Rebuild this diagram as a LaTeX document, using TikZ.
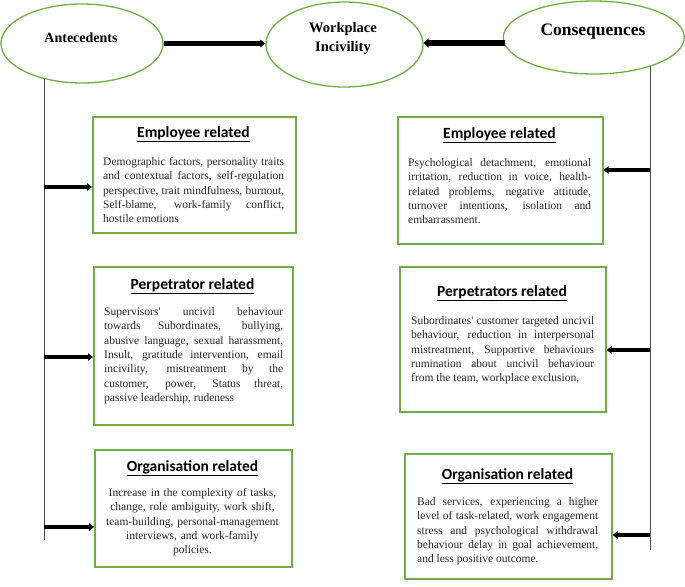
\documentclass[tikz,border=0pt]{standalone}
\usepackage{fontspec}
\setmainfont{Liberation Serif}
\newfontfamily\headfont{Carlito}
\usetikzlibrary{arrows.meta,shapes.geometric}
\definecolor{boxgreen}{RGB}{112,173,71}
\tikzset{
  oval/.style={ellipse, draw=boxgreen, line width=1.3pt, inner sep=0pt},
  ovaltext/.style={font=\bfseries\fontsize{14.5}{19}\selectfont, align=center, inner sep=0pt},
  card/.style={draw=boxgreen, line width=1.6pt, anchor=north west, inner sep=0pt},
  cardhead/.style={font=\headfont\bfseries\fontsize{15.5}{18}\selectfont, inner sep=0pt, anchor=base},
  cardbody/.style={font=\fontsize{11.5}{14.3}\selectfont, text=black!85, align=justify, inner sep=0pt, anchor=base west},
  vline/.style={draw=black!70, line width=0.9pt},
  feed/.style={line width=3.8pt, -{Triangle[length=5pt,width=7.5pt]}},
}
\begin{document}
\begin{tikzpicture}[x=1pt,y=1pt]
\useasboundingbox (0,0) rectangle (685,-586);
\tolerance=10000 \hyphenpenalty=10000

% ---- top ellipses
\node[oval, minimum width=162pt, minimum height=79pt] (ante) at (82,-43.5) {};
\node[ovaltext, font=\bfseries\fontsize{14}{16}\selectfont] (antet) at (81,-38) {Antecedents};
\node[oval, minimum width=157pt, minimum height=85pt] (wi) at (344.5,-44.5) {};
\node[ovaltext] (wit) at (343,-38.5) {Workplace\\Incivility};
\node[oval, minimum width=181pt, minimum height=73pt] (cons) at (593.8,-37.5) {};
\node[ovaltext, font=\bfseries\fontsize{17.5}{20}\selectfont] (const) at (593,-32) {Consequences};

\draw[feed, line width=4.2pt] (ante.east |- 0,-43.5) -- (wi.west |- 0,-43.5);
\draw[feed, line width=5.5pt, -{Triangle[length=5pt,width=9pt]}] (505,-43) coordinate (cstart) -- (wi.east |- cstart);

% ---- vertical lines
\coordinate (lt) at (44,-79);
\coordinate (lb) at (44,-540);
\coordinate (rt) at (650,-66);
\coordinate (rb) at (650,-550);
\draw[vline] (lt) -- (lb);
\draw[vline] (rt) -- (rb);

% ---- left boxes
\node[card, minimum width=203pt, minimum height=116pt] (ae) at (92,-116) {};
\node[cardhead] (aeh) at (193.5,-137) {\underline{Employee related}};
\node[cardbody, text width=181pt] (aeb) at (103,-165.5) {Demographic factors, personality traits\linebreak and contextual factors, self-regulation\linebreak perspective, trait mindfulness, burnout,\linebreak Self-blame, work-family conflict,\linebreak hostile emotions};

\node[card, minimum width=199pt, minimum height=158pt] (ap) at (93,-266) {};
\node[cardhead] (aph) at (192.5,-289) {\underline{Perpetrator related}};
\node[cardbody, text width=179pt] (apb) at (104,-315.5) {Supervisors\textquotesingle\ uncivil behaviour\linebreak towards Subordinates, bullying,\linebreak abusive language, sexual harassment,\linebreak Insult, gratitude intervention, email\linebreak incivility, mistreatment by the\linebreak customer, power, Status threat,\linebreak passive leadership, rudeness};

\node[card, minimum width=197pt, minimum height=117pt] (ao) at (94,-449) {};
\node[cardhead] (aoh) at (192.5,-471) {\underline{Organisation related}};
\node[cardbody, text width=185pt, align=center, anchor=base] (aob) at (192.5,-496.5) {Increase in the complexity of tasks,\\ change, role ambiguity, work shift,\\ team-building, personal-management\\ interviews, and work-family\\ policies.};

\coordinate (la1) at (44,-187);
\coordinate (la2) at (44,-357);
\coordinate (la3) at (44,-527);
\draw[feed] (la1) -- (ae.west |- la1);
\draw[feed] (la2) -- (ap.west |- la2);
\draw[feed] (la3) -- (ao.west |- la3);

% ---- right boxes
\node[card, minimum width=205pt, minimum height=127pt] (ce) at (397,-116) {};
\node[cardhead] (ceh) at (499.5,-138) {\underline{Employee related}};
\node[cardbody, text width=183pt] (ceb) at (408,-166.5) {Psychological detachment, emotional\linebreak irritation, reduction in voice, health-\linebreak{}related problems, negative attitude,\linebreak turnover intentions, isolation and\linebreak embarrassment.};

\node[card, minimum width=206pt, minimum height=145pt] (cp) at (399,-266) {};
\node[cardhead] (cph) at (502,-296) {\underline{Perpetrators related}};
\node[cardbody, text width=183pt] (cpb) at (411,-324.5) {Subordinates\textquotesingle\ customer targeted uncivil\linebreak behaviour, reduction in interpersonal\linebreak mistreatment, Supportive behaviours\linebreak rumination about uncivil behaviour\linebreak from the team, workplace exclusion,};

\node[card, minimum width=207pt, minimum height=125pt] (co) at (404,-453) {};
\node[cardhead] (coh) at (507.5,-479) {\underline{Organisation related}};
\node[cardbody, text width=181pt] (cob) at (417,-505.5) {Bad services, experiencing a higher\linebreak level of task-related, work engagement\linebreak stress and psychological withdrawal\linebreak behaviour delay in goal achievement,\linebreak and less positive outcome.};

\coordinate (ra1) at (650,-170);
\coordinate (ra2) at (650,-350);
\coordinate (ra3) at (650,-535);
\draw[feed] (ra1) -- (ce.east |- ra1);
\draw[feed] (ra2) -- (cp.east |- ra2);
\draw[feed] (ra3) -- (co.east |- ra3);
\end{tikzpicture}
\end{document}
